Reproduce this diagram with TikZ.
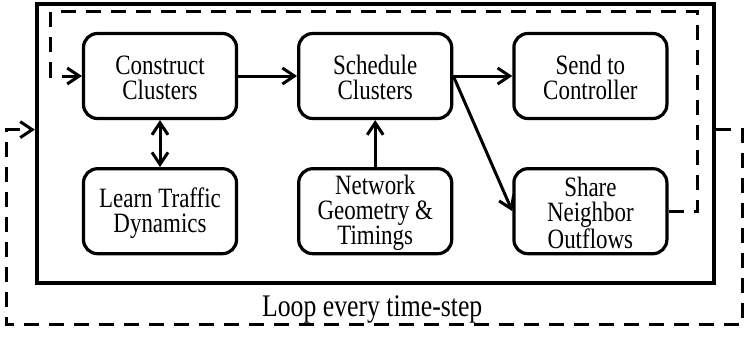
\documentclass[tikz,border=0pt]{standalone}
\usepackage{fontspec}
\setmainfont{Liberation Serif}[FakeStretch=0.82]
\usetikzlibrary{arrows.meta,positioning,calc,fit}
\newcommand{\boxstrut}{\rule{0pt}{11.5pt}}

\begin{document}
\begin{tikzpicture}[
  node distance=23.5pt and 29.5pt,
  stagebox/.style={rectangle, rounded corners=7pt, draw=black, line width=1.6pt,
                   minimum width=76.5pt, minimum height=42.5pt, inner sep=0pt,
                   align=center, font=\fontsize{14}{12.5}\selectfont},
  loopbox/.style={rectangle, draw=black, line width=2pt,
                  inner xsep=22.5pt, inner ysep=14pt},
  barb/.tip={Straight Barb[length=6pt, width=8pt]},
  darr/.style={-barb, line width=1.5pt},
  ddarr/.style={barb-barb, line width=1.5pt},
  loopline/.style={line width=1.5pt, dash pattern=on 7.5pt off 5pt}
]
\useasboundingbox (0,0) rectangle (378pt,169.5pt);

\node[stagebox] (construct) at (80pt,131.5pt) {\boxstrut Construct\\Clusters};
\node[stagebox, right=of construct] (schedule) {\boxstrut Schedule\\Clusters};
\node[stagebox, right=of schedule]  (send)     {\boxstrut Send to\\Controller};
\node[stagebox, below=of construct] (learn)    {\boxstrut Learn Traffic\\Dynamics};
\node[stagebox, below=of schedule]  (geometry) {\boxstrut Network\\Geometry \&\\Timings};
\node[stagebox, below=of send]      (share)    {\boxstrut Share\\Neighbor\\Outflows};

\node[loopbox, fit=(construct)(share)] (loop) {};
\node[below=3pt of loop.south, xshift=-1.5pt, inner sep=2pt,
      font=\fontsize{15.7}{16}\selectfont] (looplabel) {Loop every time-step};

%% arrows
\draw[darr]  (construct) -- (schedule);
\draw[darr]  (schedule) -- (send);
\draw[darr]  (schedule.east) -- (share.west);
\draw[ddarr] (construct) -- (learn);
\draw[darr]  (geometry) -- (schedule);

%% feedback loops
\coordinate (innerNE) at ($(loop.north east)+(-9pt,-5pt)$);
\coordinate (innerNW) at ($(loop.north west)+(8pt,-5pt)$);
\draw[loopline, -barb] (share.east) -| (innerNE) -- (innerNW) |- (construct.west);

\coordinate (loopout) at ($(loop.east)+(0,7pt)$);
\coordinate (loopin)  at ($(loop.west)+(0,7pt)$);
\coordinate (outerSE) at ($(loop.south east)+(13.5pt,-19.5pt)$);
\coordinate (outerSW) at ($(loop.south west)+(-14pt,-19.5pt)$);
\draw[loopline, -barb] (loopout) -| (outerSE) -- (outerSW) |- (loopin);

\end{tikzpicture}
\end{document}
